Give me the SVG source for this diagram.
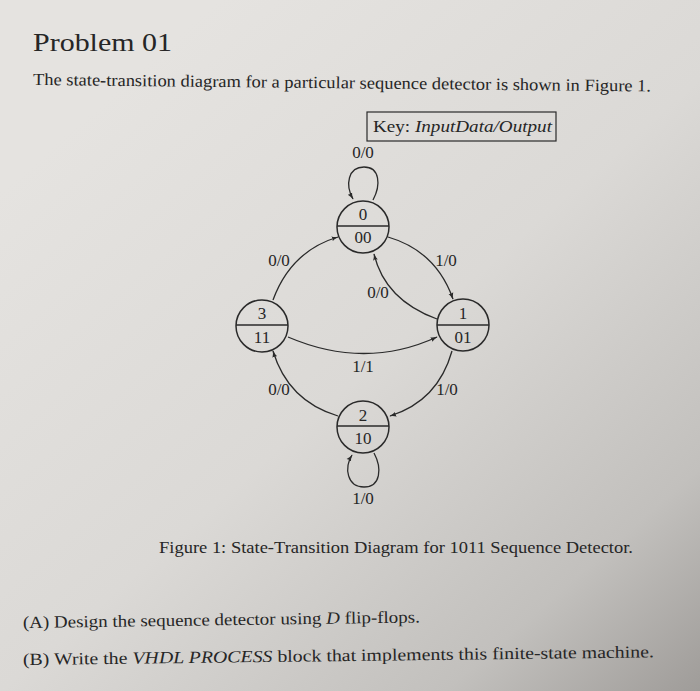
<svg xmlns="http://www.w3.org/2000/svg" width="700" height="691" viewBox="0 0 700 691">
<defs>
<linearGradient id="paper" x1="0.2" y1="0.1" x2="1" y2="1">
<stop offset="0" stop-color="#e5e3e0"/>
<stop offset="0.45" stop-color="#dbd9d6"/>
<stop offset="0.8" stop-color="#c2c0bd"/>
<stop offset="1" stop-color="#9f9c99"/>
</linearGradient>
<marker id="arr" viewBox="0 0 10 10" refX="9" refY="5" markerWidth="7" markerHeight="7" orient="auto" markerUnits="userSpaceOnUse">
<path d="M0,1.5 Q4,4 10,5 Q4,6 0,8.5 Q2,5 0,1.5 Z" fill="#2a2a2a"/>
</marker>
<style>
text{font-family:"Liberation Serif","DejaVu Serif",serif;fill:#262626}
.lbl{font-size:17px;text-anchor:middle}
.st circle{fill:none;stroke:#2a2a2a;stroke-width:1.5}
.st line{stroke:#2a2a2a;stroke-width:1.5}
.edge{fill:none;stroke:#2a2a2a;stroke-width:1.3;marker-end:url(#arr)}
.body{font-size:17px}
.it{font-style:italic}
</style>
</defs>
<rect width="700" height="691" fill="url(#paper)"/>

<text x="33" y="51" font-size="25" textLength="139" lengthAdjust="spacingAndGlyphs">Problem 01</text>
<text class="body" x="33" y="85" textLength="618" lengthAdjust="spacingAndGlyphs" transform="rotate(0.6 33 85)">The state-transition diagram for a particular sequence detector is shown in Figure 1.</text>

<g id="key">
<rect x="367" y="112" width="189" height="29" fill="none" stroke="#2a2a2a" stroke-width="1.2"/>
<text x="373" y="132" font-size="17" textLength="179" lengthAdjust="spacingAndGlyphs">Key: <tspan class="it">InputData/Output</tspan></text>
</g>

<g id="connectors">
<path class="edge" d="M373 200 C381 185 380 167 364 167 C348 167 345 185 353 199"/>
<path class="edge" d="M374 453 C382 468 381 487 364 487 C347 487 344 468 352 455"/>
<path class="edge" d="M273 300 Q291 251 338 237"/>
<path class="edge" d="M388 237 Q436 251 453 299"/>
<path class="edge" d="M437 319 Q385 300 374 254"/>
<path class="edge" d="M288 337 Q365 370 437 337"/>
<path class="edge" d="M452 351 Q438 401 390 416"/>
<path class="edge" d="M338 416 Q288 401 273 351"/>
</g>

<g id="labels">
<text class="lbl" x="363" y="158">0/0</text>
<text class="lbl" x="279" y="266">0/0</text>
<text class="lbl" x="446" y="266">1/0</text>
<text class="lbl" x="378" y="298">0/0</text>
<text class="lbl" x="363" y="372">1/1</text>
<text class="lbl" x="279" y="395">0/0</text>
<text class="lbl" x="447" y="395">1/0</text>
<text class="lbl" x="363" y="504">1/0</text>
</g>

<g id="state0" class="st">
<circle cx="363" cy="227" r="26"/>
<line x1="337" y1="226" x2="389" y2="226"/>
<text class="lbl" x="363" y="220">0</text>
<text class="lbl" x="363" y="243">00</text>
</g>
<g id="state1" class="st">
<circle cx="463" cy="325" r="26"/>
<line x1="437" y1="325" x2="489" y2="325"/>
<text class="lbl" x="463" y="319">1</text>
<text class="lbl" x="463" y="343">01</text>
</g>
<g id="state2" class="st">
<circle cx="363" cy="427" r="26"/>
<line x1="337" y1="426" x2="389" y2="426"/>
<text class="lbl" x="363" y="421">2</text>
<text class="lbl" x="363" y="444">10</text>
</g>
<g id="state3" class="st">
<circle cx="262" cy="326" r="26"/>
<line x1="236" y1="325" x2="288" y2="325"/>
<text class="lbl" x="262" y="319">3</text>
<text class="lbl" x="262" y="343">11</text>
</g>

<text class="body" x="159" y="553" textLength="474" lengthAdjust="spacingAndGlyphs">Figure 1: State-Transition Diagram for 1011 Sequence Detector.</text>
<text class="body" x="23" y="628" textLength="397" lengthAdjust="spacingAndGlyphs" transform="rotate(-0.8 23 628)">(A) Design the sequence detector using <tspan class="it">D</tspan> flip-flops.</text>
<text class="body" x="23" y="665" textLength="631" lengthAdjust="spacingAndGlyphs" transform="rotate(-0.7 23 665)">(B) Write the <tspan class="it">VHDL PROCESS</tspan> block that implements this finite-state machine.</text>
</svg>
